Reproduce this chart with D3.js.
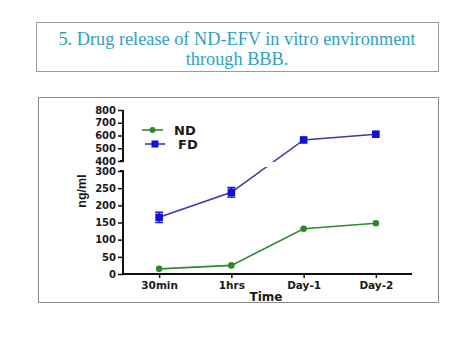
<!DOCTYPE html>
<html><head><meta charset="utf-8">
<script src="https://cdn.jsdelivr.net/npm/d3@7"></script>
<style>body{margin:0;background:#fff}</style></head>
<body><svg id="c" width="474" height="355"></svg>
<script>
const categories = ["30min","1hrs","Day-1","Day-2"];
const ndValues = [15, 25, 132, 148];
const fdValues = [165, 238, 565, 610];
const fdErrors = [15, 14, 0, 0];
const lowTicks = [0,50,100,150,200,250,300];
const highTicks = [400,500,600,700,800];
const titleLines = ["5. Drug release of ND-EFV in vitro environment","through BBB."];

const svg = d3.select("#c");
// title box
svg.append("rect").attr("x",36.5).attr("y",22.5).attr("width",402).attr("height",49)
  .attr("fill","#fff").attr("stroke","#9a9a9a").attr("stroke-width",1);
svg.append("text").attr("x",237).attr("text-anchor","middle")
  .attr("font-family","'Liberation Serif','Times New Roman',serif").attr("font-size",18.3)
  .attr("fill","#2f9fc4")
  .selectAll("tspan").data(titleLines).join("tspan")
  .attr("x",237).attr("y",(d,i)=>45+i*20).text(d=>d);

// chart box
svg.append("rect").attr("x",38.5).attr("y",97.5).attr("width",400).attr("height",205)
  .attr("fill","#fff").attr("stroke","#8a8a8a").attr("stroke-width",1);

const x = d3.scalePoint().domain(categories).range([123,412]).padding(0.5);
const yLow = d3.scaleLinear().domain([0,300]).range([274,171]);
const yHigh = d3.scaleLinear().domain([400,800]).range([161,110]);
const y = v => v <= 300 ? yLow(v) : yHigh(v);

const font = "'DejaVu Sans',Verdana,sans-serif";

// clip excluding the break gap
const defs = svg.append("defs");
const cp = defs.append("clipPath").attr("id","brk");
cp.append("rect").attr("x",124).attr("y",100).attr("width",300).attr("height",yHigh(400)-100+1);
cp.append("rect").attr("x",124).attr("y",yLow(300)-4).attr("width",300).attr("height",yLow(0)-yLow(300)+4);

const line = d3.line().x((d,i)=>x(categories[i])).y(d=>y(d));
const plot = svg.append("g").attr("clip-path","url(#brk)");
plot.append("path").datum(ndValues).attr("d",line).attr("fill","none").attr("stroke","#2e8b2e").attr("stroke-width",1.6);
plot.append("path").datum(fdValues).attr("d",line).attr("fill","none").attr("stroke","#3a3aa8").attr("stroke-width",1.6);

// error bars
const eb = svg.append("g").attr("stroke","#1a1ad0").attr("stroke-width",1.5);
fdValues.forEach((v,i)=>{
  const e = fdErrors[i]; if(!e) return;
  const cx = x(categories[i]);
  eb.append("line").attr("x1",cx).attr("x2",cx).attr("y1",y(v-e)).attr("y2",y(v+e));
  eb.append("line").attr("x1",cx-4).attr("x2",cx+4).attr("y1",y(v-e)).attr("y2",y(v-e));
  eb.append("line").attr("x1",cx-4).attr("x2",cx+4).attr("y1",y(v+e)).attr("y2",y(v+e));
});

// markers
svg.append("g").selectAll("circle").data(ndValues).join("circle")
  .attr("cx",(d,i)=>x(categories[i])).attr("cy",d=>y(d)).attr("r",3.3).attr("fill","#2a8a2a");
svg.append("g").selectAll("rect").data(fdValues).join("rect")
  .attr("x",(d,i)=>x(categories[i])-3.8).attr("y",d=>y(d)-3.8).attr("width",7.6).attr("height",7.6).attr("fill","#1010d8");

// axes
const axLow = svg.append("g").attr("transform","translate(123,0)")
  .call(d3.axisLeft(yLow).tickValues(lowTicks).tickSize(5).tickPadding(2));
const axHigh = svg.append("g").attr("transform","translate(123,0)")
  .call(d3.axisLeft(yHigh).tickValues(highTicks).tickSize(5).tickPadding(2));
const axX = svg.append("g").attr("transform","translate(0,274)")
  .call(d3.axisBottom(x).tickSize(4).tickPadding(4).tickSizeOuter(0));
axX.select(".domain").attr("d","M123,0H412");
[axLow,axHigh,axX].forEach(a=>{
  a.selectAll(".domain").attr("stroke","#111").attr("stroke-width",2);
  a.selectAll(".tick line").attr("stroke","#111").attr("stroke-width",1.5);
  a.selectAll("text").attr("font-family",font).attr("font-weight","bold").attr("font-size",10).attr("fill","#1a1a1a");
});
axLow.select(".domain").attr("d","M-3,"+yLow(300)+"H0V"+yLow(0));
axHigh.select(".domain").attr("d","M0,"+yHigh(800)+"V"+yHigh(400)+"H-3");
axX.selectAll("text").attr("font-size",10.5);

// axis titles
svg.append("text").attr("x",266).attr("y",301).attr("text-anchor","middle")
  .attr("font-family",font).attr("font-weight","bold").attr("font-size",12).attr("fill","#1a1a1a").text("Time");
svg.append("text").attr("transform","translate(86,191) rotate(-90)").attr("text-anchor","middle")
  .attr("font-family","'Liberation Sans Narrow',Arial,sans-serif").attr("font-weight","bold").attr("font-size",12.5).attr("fill","#1a1a1a").text("ng/ml");

// legend
const lg = svg.append("g");
lg.append("line").attr("x1",142).attr("x2",163).attr("y1",130).attr("y2",130).attr("stroke","#2e8b2e").attr("stroke-width",1.6);
lg.append("circle").attr("cx",152.5).attr("cy",130).attr("r",3).attr("fill","#2a8a2a");
lg.append("text").attr("x",174).attr("y",134.5).attr("font-family",font).attr("font-weight","bold").attr("font-size",13).attr("fill","#1a1a1a").text("ND");
lg.append("line").attr("x1",145).attr("x2",165).attr("y1",144).attr("y2",144).attr("stroke","#3a3aa8").attr("stroke-width",1.6);
lg.append("rect").attr("x",151.5).attr("y",140.5).attr("width",7).attr("height",7).attr("fill","#1010d8");
lg.append("text").attr("x",178).attr("y",148.5).attr("font-family",font).attr("font-weight","bold").attr("font-size",13).attr("fill","#1a1a1a").text("FD");
</script></body></html>
